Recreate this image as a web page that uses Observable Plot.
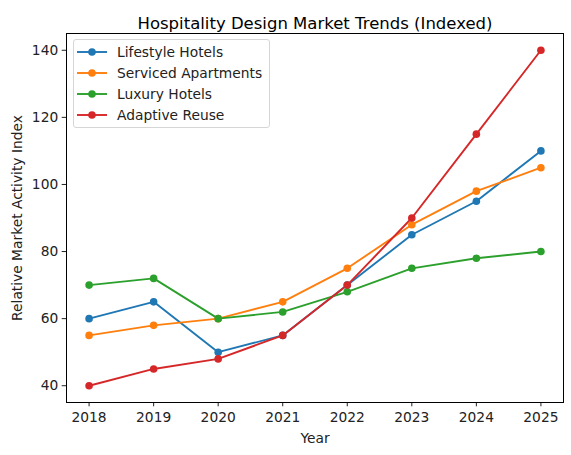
<!DOCTYPE html>
<html>
<head>
<meta charset="utf-8">
<script src="https://cdn.jsdelivr.net/npm/d3@7"></script>
<script src="https://cdn.jsdelivr.net/npm/@observablehq/plot@0.6"></script>
<style>
  body { margin: 0; background: white; }
  #chart { position: relative; width: 571px; height: 455px; font-family: "DejaVu Sans", sans-serif; }
  #legend {
    position: absolute; left: 73px; top: 39px; width: 195px; height: 87px;
    border: 1px solid #d6d6d6; border-radius: 3px; background: rgba(255,255,255,0.8);
    font-size: 13.8px; color: #222;
  }
  .row { position: absolute; left: 0; height: 20px; display: flex; align-items: center; }
  .row svg { margin-left: 3px; }
  .row span { margin-left: 10px; }
</style>
</head>
<body>
<div id="chart"></div>
<script>
const years = [2018, 2019, 2020, 2021, 2022, 2023, 2024, 2025];
const seriesNames = ["Lifestyle Hotels", "Serviced Apartments", "Luxury Hotels", "Adaptive Reuse"];
const lifestyle = [60, 65, 50, 55, 70, 85, 95, 110];
const serviced = [55, 58, 60, 65, 75, 88, 98, 105];
const luxury = [70, 72, 60, 62, 68, 75, 78, 80];
const adaptive = [40, 45, 48, 55, 70, 90, 115, 140];
const colors = ["#1f77b4", "#ff7f0e", "#2ca02c", "#d62728"];
const yTicks = [40, 60, 80, 100, 120, 140];

const allValues = [lifestyle, serviced, luxury, adaptive];
const data = seriesNames.flatMap((name, i) =>
  years.map((year, j) => ({series: name, year, value: allValues[i][j]}))
);

let chart = Plot.plot({
  width: 571,
  height: 455,
  marginTop: 33,
  marginBottom: 53,
  marginLeft: 66,
  marginRight: 8,
  style: { fontFamily: "DejaVu Sans, sans-serif", fontSize: "13.8px", color: "#222", background: "white" },
  x: { domain: [2017.65, 2025.35] },
  y: { domain: [35, 145] },
  color: { domain: seriesNames, range: colors },
  marks: [
    Plot.axisX({
      ticks: years, tickFormat: d => String(d), tickSize: 4.3, tickPadding: 5,
      label: "Year", labelAnchor: "center", labelArrow: "none", labelOffset: 40,
      fontSize: 13.8
    }),
    Plot.axisY({
      ticks: yTicks, tickSize: 4.3, tickPadding: 4,
      label: "Relative Market Activity Index", labelAnchor: "center", labelArrow: "none", labelOffset: 54,
      fontSize: 13.8
    }),
    Plot.line(data, { x: "year", y: "value", stroke: "series", strokeWidth: 1.9 }),
    Plot.dot(data, { x: "year", y: "value", fill: "series", r: 3.8 }),
    Plot.frame({ stroke: "black", strokeWidth: 1 }),
    Plot.text(["Hospitality Design Market Trends (Indexed)"], {
      frameAnchor: "top", dy: -16, fontSize: 16.5, fill: "black"
    })
  ]
});

d3.select("#chart").append(() => chart);

const legend = d3.select("#chart").append("div").attr("id", "legend");
seriesNames.forEach((name, i) => {
  const row = legend.append("div").attr("class", "row").style("top", (2 + i * 21) + "px");
  const sw = row.append("svg").attr("width", 30).attr("height", 10);
  sw.append("line").attr("x1", 0).attr("x2", 30).attr("y1", 5).attr("y2", 5)
    .attr("stroke", colors[i]).attr("stroke-width", 1.9);
  sw.append("circle").attr("cx", 15).attr("cy", 5).attr("r", 3.8).attr("fill", colors[i]);
  row.append("span").text(name);
});
</script>
</body>
</html>
